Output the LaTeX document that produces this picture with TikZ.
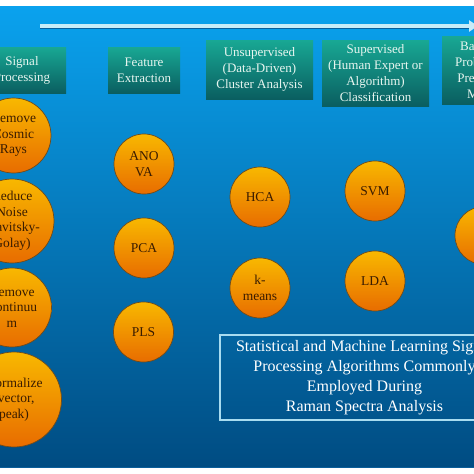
\documentclass[tikz,border=0pt]{standalone}
\usepackage{fontspec}
\setmainfont{Liberation Serif}
\usetikzlibrary{arrows.meta,shadings}
\definecolor{bgtop}{HTML}{0AA2EE}
\definecolor{bgmid}{HTML}{0A80CA}
\definecolor{bgbot}{HTML}{004C82}
\definecolor{hdtop}{HTML}{18A894}
\definecolor{hdbot}{HTML}{0A5E60}
\definecolor{ortop}{HTML}{F8B800}
\definecolor{orbot}{HTML}{E86C00}
\definecolor{orline}{HTML}{6E4A1C}
\definecolor{ortext}{HTML}{3A1C00}
\definecolor{hdtext}{HTML}{E8F6F0}
\definecolor{arrowc}{HTML}{C8ECF8}
\definecolor{arrowsh}{HTML}{0A5E9A}
\definecolor{boxline}{HTML}{A8DCF0}
\tikzset{
  header/.style={rectangle, top color=hdtop, bottom color=hdbot, draw=none,
    text=hdtext, align=center, font=\fontsize{13}{16}\selectfont, inner sep=0pt},
  blob/.style={circle, top color=ortop, bottom color=orbot, draw=orline,
    line width=0.7pt, text=ortext, align=center,
    font=\fontsize{13.5}{15.5}\selectfont, inner sep=0pt},
  titlebox/.style={rectangle, draw=boxline, line width=2.8pt, text=white,
    align=center, font=\fontsize{16}{20}\selectfont, inner sep=0pt},
  timeline/.style={draw=arrowc, line width=4pt,
    -{Triangle[length=9pt,width=11pt]}}
}
\begin{document}
\begin{tikzpicture}[x=1pt,y=-1pt]
\useasboundingbox (0,0) rectangle (474,474);
\clip (0,0) rectangle (474,474);
\fill[white] (0,0) rectangle (474,474);
\shade[top color=bgtop, middle color=bgmid, bottom color=bgbot] (0,6) rectangle (474,467);
\draw[arrowsh, line width=1pt] (0,467) -- (474,467);
% timeline arrow
\coordinate (ta) at (40,26);
\coordinate (tb) at (478,26);
\draw[arrowsh, line width=1.5pt] ([yshift=-2.5pt]ta) -- ([yshift=-2.5pt]tb);
\draw[timeline] (ta) -- (tb);
% headers
\node[header, minimum width=88pt, minimum height=46pt] (h1) at (22,70) {Signal\\Processing};
\node[header, minimum width=72pt, minimum height=46pt] (h2) at (144,70) {Feature\\Extraction};
\node[header, minimum width=107pt, minimum height=59pt] (h3) at (259.5,69.5) {Unsupervised\\(Data-Driven)\\Cluster Analysis};
\node[header, minimum width=107pt, minimum height=66pt] (h4) at (375.5,73) {Supervised\\(Human Expert or\\Algorithm)\\Classification};
\node[header, minimum width=84pt, minimum height=68pt] (h5) at (484,70) {Bayesian\\Probability\\Prediction\\Model};
% column 1
\node[blob, minimum size=75pt] (c1) at (13.5,135.5) {Remove\\Cosmic\\Rays};
\node[blob, minimum size=84pt] (c2) at (12,221) {Reduce\\Noise\\(Savitsky-\\Golay)};
\node[blob, minimum size=79pt] (c3) at (12,307.5) {Remove\\Continuu\\m};
\node[blob, minimum size=95pt] (c4) at (14,399.5) {Normalize\\(vector,\\peak)};
% column 2
\node[blob, minimum size=60pt] (anova) at (144,164) {ANO\\VA};
\node[blob, minimum size=60pt] (pca) at (144,248) {PCA};
\node[blob, minimum size=60pt] (pls) at (143.5,332) {PLS};
% column 3
\node[blob, minimum size=60pt] (hca) at (260,197) {HCA};
\node[blob, minimum size=60pt] (km) at (260,288) {k-\\means};
% column 4
\node[blob, minimum size=60pt] (svm) at (375,191) {SVM};
\node[blob, minimum size=60pt] (lda) at (375,281) {LDA};
% column 5
\node[blob, minimum size=58pt] (c5) at (484,235.5) {};
% title box
\node[titlebox, minimum width=289pt, minimum height=85pt] (title) at (364.5,377.5)
  {Statistical and Machine Learning Signal\\Processing Algorithms Commonly\\Employed During\\Raman Spectra Analysis};
\end{tikzpicture}
\end{document}
